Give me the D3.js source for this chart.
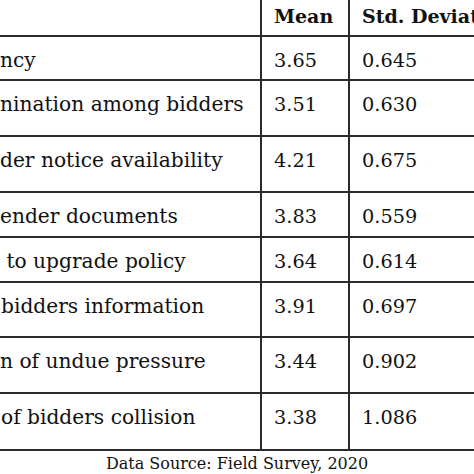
<!DOCTYPE html>
<html><head><meta charset="utf-8">
<script src="https://cdn.jsdelivr.net/npm/d3@7"></script>
<style>html,body{margin:0;padding:0;background:#fff;overflow:hidden}</style>
</head><body>
<script>
const labels = ["ncy","nination among bidders","der notice availability","ender documents"," to upgrade policy","bidders information","n of undue pressure","of bidders collision"];
const means = ["3.65","3.51","4.21","3.83","3.64","3.91","3.44","3.38"];
const sds = ["0.645","0.630","0.675","0.559","0.614","0.697","0.902","1.086"];
const headers = ["","Mean","Std. Deviation"];
const source = "Data Source: Field Survey, 2020";

const W = 474, H = 474;
const lines = [36,80,136,192,237,282,337,393,450];
const colX = [0,261,349];
const svg = d3.select("body").append("svg").attr("width",W).attr("height",H);
const ink = "#2b2b2b";
const font = "DejaVu Serif";

svg.selectAll("line.h").data(lines).join("line")
  .attr("x1",0).attr("x2",W).attr("y1",d=>d).attr("y2",d=>d)
  .attr("stroke",ink).attr("stroke-width",2);
svg.selectAll("line.v").data(colX.slice(1)).join("line")
  .attr("x1",d=>d).attr("x2",d=>d).attr("y1",0).attr("y2",lines[lines.length-1])
  .attr("stroke",ink).attr("stroke-width",2);

svg.selectAll("text.hd").data(headers).join("text")
  .attr("x",(d,i)=>colX[i]+13).attr("y",23)
  .attr("font-family",font).attr("font-weight","bold").attr("font-size",19)
  .attr("fill","#111").text(d=>d);

const rows = labels.map((l,i)=>({l, m:means[i], s:sds[i], top:lines[i]}));
const g = svg.selectAll("g.row").data(rows).join("g");
const pad = [0,0,0,0,0,1,0,1];
g.append("text").attr("x",(d,i)=>pad[i]).attr("y",d=>d.top+31)
  .attr("font-family",font).attr("font-size",20.2).attr("fill","#111").attr("xml:space","preserve").text(d=>d.l);
g.append("text").attr("x",colX[1]+13).attr("y",d=>d.top+31)
  .attr("font-family",font).attr("font-size",19.3).attr("fill","#111").text(d=>d.m);
g.append("text").attr("x",colX[2]+13).attr("y",d=>d.top+31)
  .attr("font-family",font).attr("font-size",19.3).attr("fill","#111").text(d=>d.s);

svg.append("text").attr("x",237).attr("y",469).attr("text-anchor","middle")
  .attr("font-family",font).attr("font-size",16).attr("fill","#111").text(source);
</script>
</body></html>
